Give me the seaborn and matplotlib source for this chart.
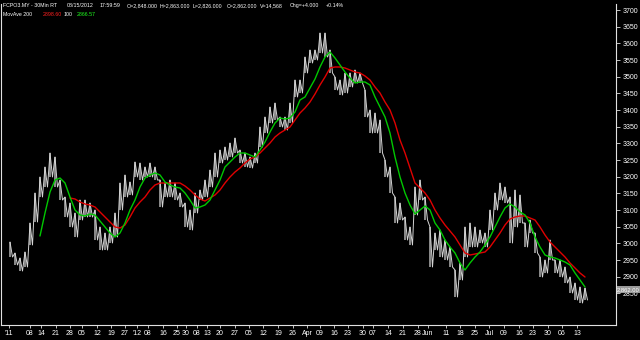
import numpy as np
import pandas as pd
import matplotlib
matplotlib.use("Agg")
import matplotlib.pyplot as plt
import seaborn as sns

bar_start, bar_step = 10, 5

price_high = [
    3004, 2971, 2956, 2974, 3061, 3151, 3199, 3229, 3271, 3259,
    3190, 3139, 3121, 3091, 3130, 3130, 3121, 3100, 3049, 3031,
    3049, 3091, 3181, 3205, 3184, 3244, 3241, 3229, 3241, 3229,
    3190, 3181, 3190, 3181, 3151, 3121, 3100, 3151, 3160, 3190,
    3220, 3271, 3280, 3289, 3301, 3316, 3280, 3271, 3259, 3271,
    3349, 3379, 3409, 3421, 3379, 3379, 3421, 3490, 3490, 3559,
    3580, 3580, 3631, 3631, 3580, 3499, 3490, 3511, 3511, 3520,
    3511, 3460, 3400, 3391, 3370, 3250, 3229, 3139, 3121, 3079,
    3049, 3169, 3190, 3139, 3049, 3031, 3040, 3010, 2989, 2920,
    2941, 3049, 3061, 3049, 3040, 3031, 3100, 3151, 3181, 3169,
    3139, 3160, 3145, 3061, 3070, 3031, 2959, 2950, 3010, 2950,
    2950, 2929, 2899, 2881, 2869, 2866,
]
price_low = [
    2959, 2935, 2917, 2929, 2995, 3064, 3139, 3169, 3199, 3169,
    3130, 3079, 3049, 3019, 3070, 3079, 3079, 3010, 2980, 2980,
    3001, 3019, 3100, 3139, 3145, 3199, 3190, 3199, 3199, 3190,
    3109, 3139, 3139, 3130, 3109, 3049, 3040, 3091, 3130, 3139,
    3169, 3199, 3241, 3250, 3259, 3271, 3241, 3229, 3226, 3241,
    3289, 3331, 3361, 3370, 3349, 3340, 3361, 3439, 3451, 3511,
    3541, 3550, 3571, 3559, 3511, 3460, 3445, 3451, 3469, 3481,
    3481, 3379, 3331, 3331, 3271, 3199, 3151, 3061, 3070, 3010,
    2995, 3085, 3130, 3070, 2929, 2980, 2959, 2950, 2929, 2839,
    2890, 2959, 2989, 2989, 3001, 2989, 3040, 3100, 3130, 3121,
    3001, 3049, 3061, 2989, 3031, 2971, 2899, 2911, 2950, 2911,
    2899, 2881, 2851, 2830, 2821, 2830,
]
ma100_start = 6   # first sample index where the 100 average is drawn
ma100 = [
    3022, 3091, 3154, 3190, 3196, 3181, 3139, 3100, 3085, 3082,
    3088, 3085, 3067, 3049, 3031, 3019, 3031, 3061, 3100, 3130,
    3169, 3196, 3205, 3211, 3205, 3184, 3175, 3169, 3166, 3151,
    3130, 3106, 3109, 3115, 3130, 3160, 3190, 3229, 3244, 3259,
    3271, 3271, 3265, 3259, 3280, 3304, 3334, 3361, 3376, 3373,
    3376, 3394, 3430, 3439, 3466, 3493, 3529, 3559, 3574, 3556,
    3535, 3514, 3496, 3481, 3484, 3484, 3475, 3439, 3409, 3379,
    3331, 3259, 3199, 3151, 3115, 3088, 3100, 3112, 3100, 3061,
    3040, 3010, 2989, 2971, 2941, 2920, 2941, 2959, 2974, 2995,
    3019, 3049, 3079, 3106, 3118, 3109, 3094, 3085, 3061, 3019,
    2989, 2965, 2959, 2956, 2950, 2944, 2935, 2911, 2890, 2869,
]
ma200_start = 12
ma200 = [
    3136, 3133, 3124, 3118, 3115, 3109, 3094, 3079, 3064, 3049,
    3046, 3055, 3079, 3106, 3124, 3139, 3160, 3175, 3181, 3181,
    3181, 3181, 3181, 3172, 3160, 3145, 3133, 3127, 3136, 3145,
    3160, 3181, 3199, 3214, 3226, 3241, 3253, 3259, 3271, 3286,
    3301, 3319, 3331, 3340, 3349, 3370, 3391, 3406, 3424, 3448,
    3475, 3499, 3526, 3529, 3529, 3526, 3520, 3514, 3511, 3502,
    3490, 3469, 3451, 3424, 3400, 3361, 3310, 3271, 3226, 3181,
    3166, 3151, 3130, 3100, 3076, 3055, 3037, 3019, 2995, 2971,
    2965, 2968, 2971, 2974, 2989, 3010, 3031, 3055, 3073, 3079,
    3082, 3082, 3076, 3070, 3049, 3025, 3004, 2989, 2974, 2959,
    2941, 2926, 2911, 2899,
]

xtick_labels = ["'11", "08", "14", "21", "28", "05", "12", "19", "27", "'12",
                "08", "16", "25", "30", "08", "13", "20", "27", "05", "12",
                "19", "26", "Apr", "09", "16", "23", "30", "07", "14", "21",
                "28", "Jun", "11", "18", "25", "Jul", "09", "16", "23", "30",
                "06", "13"]
xtick_pos = [9, 30, 41, 56, 70, 82, 97, 111, 125, 137,
             148, 163, 177, 186, 197, 207, 220, 235, 249, 263,
             278, 293, 307, 320, 334, 348, 363, 373, 388, 403,
             418, 428, 446, 460, 475, 489, 504, 519, 533, 548,
             562, 577]
ytick_vals = list(range(2850, 3701, 50))

header = ("FCPO3.MY - 30Min RT", "08/15/2012", "17:59:59", "O=2,848.000",
          "H=2,863.000", "L=2,826.000", "C=2,862.000", "V=14,568",
          "Chg=+4.000", "+0.14%")
last_close = 2862.0
ma200_last, ma100_last = "2898.60", "2866.57"

# ---- build frames ----
n = len(price_high)
bars = bar_start + bar_step * np.arange(n)
# jagged price trace: each sample drawn as a high point then a low point
zx = np.empty(2 * n)
zy = np.empty(2 * n)
zx[0::2] = bars
zx[1::2] = bars + bar_step / 2
zy[0::2] = price_high
zy[1::2] = price_low
price_df = pd.DataFrame({"bar": zx, "price": zy})
ma100_df = pd.DataFrame({"bar": bars[ma100_start:ma100_start + len(ma100)], "ma": ma100})
ma200_df = pd.DataFrame({"bar": bars[ma200_start:ma200_start + len(ma200)], "ma": ma200})

# ---- figure ----
sns.set_theme(style="dark")
plt.rcParams["font.family"] = ["Liberation Sans", "DejaVu Sans"]
W, H = 640, 340
fig = plt.figure(figsize=(6.4, 3.4), dpi=100, facecolor="black")
ax = fig.add_axes([1 / W, 15 / H, 615 / W, 321 / H])
ax.set_facecolor("black")

# high-low bars of the price series
ax.vlines(bars, price_low, price_high, color="#8c8c8c", linewidth=1.4)
sns.lineplot(data=price_df, x="bar", y="price", sort=False, estimator=None,
             color="#d4d4d4", linewidth=0.7, ax=ax)
sns.lineplot(data=ma200_df, x="bar", y="ma", sort=False, estimator=None,
             color="#e00000", linewidth=1.0, ax=ax)
sns.lineplot(data=ma100_df, x="bar", y="ma", sort=False, estimator=None,
             color="#00c800", linewidth=1.0, ax=ax)

ax.set_xlim(1, 616)
ax.set_ylim(2755, 3718)
ax.grid(False)
ax.set_xlabel("")
ax.set_ylabel("")

for side in ("left", "bottom", "right"):
    ax.spines[side].set_visible(True)
    ax.spines[side].set_color("#e0e0e0")
    ax.spines[side].set_linewidth(0.8)
ax.spines["top"].set_visible(False)

ax.yaxis.tick_right()
ax.set_yticks(ytick_vals)
ax.set_yticklabels([str(v) for v in ytick_vals])
ax.tick_params(axis="y", which="both", right=True, left=False, length=3,
               width=0.6, color="#e0e0e0", labelcolor="white", labelsize=5, pad=1.5)
ax.set_xticks(xtick_pos)
ax.set_xticklabels(xtick_labels)
ax.tick_params(axis="x", bottom=True, length=2, width=0.6, color="#e0e0e0",
               labelcolor="white", labelsize=5, pad=1.5)

# last price box on the axis
ax.annotate("2,862.00", xy=(1.002, last_close), xycoords=("axes fraction", "data"),
            fontsize=4.2, color="white", va="center", ha="left",
            bbox=dict(boxstyle="square,pad=0.12", fc="#9a9a9a", ec="none"),
            annotation_clip=False)

# header
hfs = 3.8
hx = [3, 67, 100, 127, 160, 193, 227, 260, 290, 326]
for x, t in zip(hx, header):
    fig.text(x / W, 1 - 5.5 / H, t, color="white", fontsize=hfs, va="center", ha="left")
fig.text(3 / W, 1 - 14.5 / H, "MovAve 200", color="white", fontsize=hfs, va="center")
fig.text(43 / W, 1 - 14.5 / H, ma200_last, color="#ff2020", fontsize=hfs, va="center")
fig.text(64 / W, 1 - 14.5 / H, "100", color="white", fontsize=hfs, va="center")
fig.text(77 / W, 1 - 14.5 / H, ma100_last, color="#20ff20", fontsize=hfs, va="center")

fig.savefig("out.png", dpi=100, facecolor="black")
